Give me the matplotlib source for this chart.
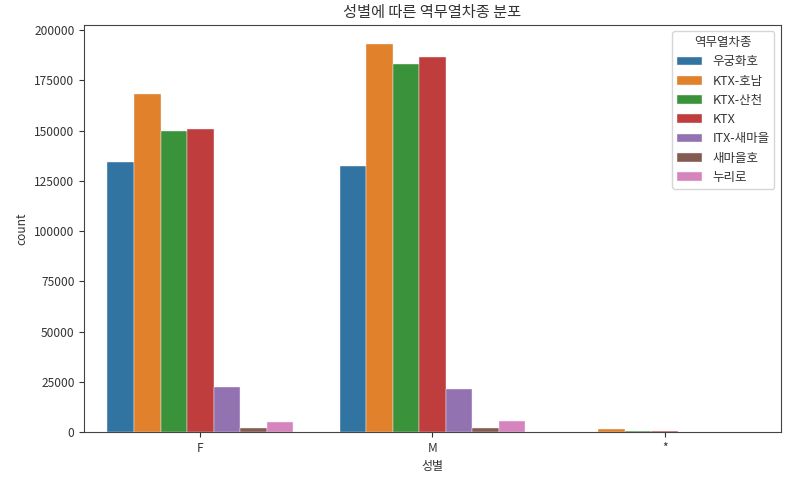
import numpy as np
import pandas as pd
import matplotlib
matplotlib.use('Agg')
import matplotlib.pyplot as plt
import seaborn as sns

genders = ['F', 'M', '*']
train_types = ['우궁화호', 'KTX-호남', 'KTX-산천', 'KTX', 'ITX-새마을', '새마을호', '누리로']

# counts per train type, order: F, M, *
mugunghwa = [134300, 132500, 0]
ktx_honam = [168500, 193300, 1300]
ktx_sancheon = [149900, 183000, 500]
ktx = [151000, 186500, 700]
itx_saemaeul = [22500, 21500, 0]
saemaeul = [2100, 2000, 0]
nuriro = [5000, 5600, 0]

counts = [mugunghwa, ktx_honam, ktx_sancheon, ktx, itx_saemaeul, saemaeul, nuriro]
rows = []
for t, vals in zip(train_types, counts):
    for g, v in zip(genders, vals):
        if v > 0:
            rows.append({'성별': g, '역무열차종': t, 'count': v})
df = pd.DataFrame(rows)

plt.rcParams['font.family'] = ['Noto Sans CJK KR', 'DejaVu Sans']
plt.rcParams['font.size'] = 8.6
plt.rcParams['text.color'] = '#333333'
plt.rcParams['axes.labelcolor'] = '#333333'
plt.rcParams['xtick.color'] = '#333333'
plt.rcParams['ytick.color'] = '#333333'
plt.rcParams['axes.unicode_minus'] = False

fig = plt.figure(figsize=(7.95, 4.79), dpi=100)
ax = fig.add_axes([0.106, 0.098, 0.876, 0.850])
sns.barplot(data=df, x='성별', y='count', hue='역무열차종', order=genders,
            hue_order=train_types, saturation=0.75, ax=ax,
            edgecolor='#f4f4f4', linewidth=0.3)
ax.set_xlim(-0.5, 2.5)
ax.set_ylim(0, 202650)
ax.set_title('성별에 따른 역무열차종 분포', fontsize=11, fontweight='light')
ax.set_xlabel('성별')
ax.set_ylabel('count')
for s in ax.spines.values():
    s.set_color('#444444')
ax.legend(title='역무열차종', loc='upper right', fontsize=9, title_fontsize=9)
fig.savefig('out.png', dpi=100)
